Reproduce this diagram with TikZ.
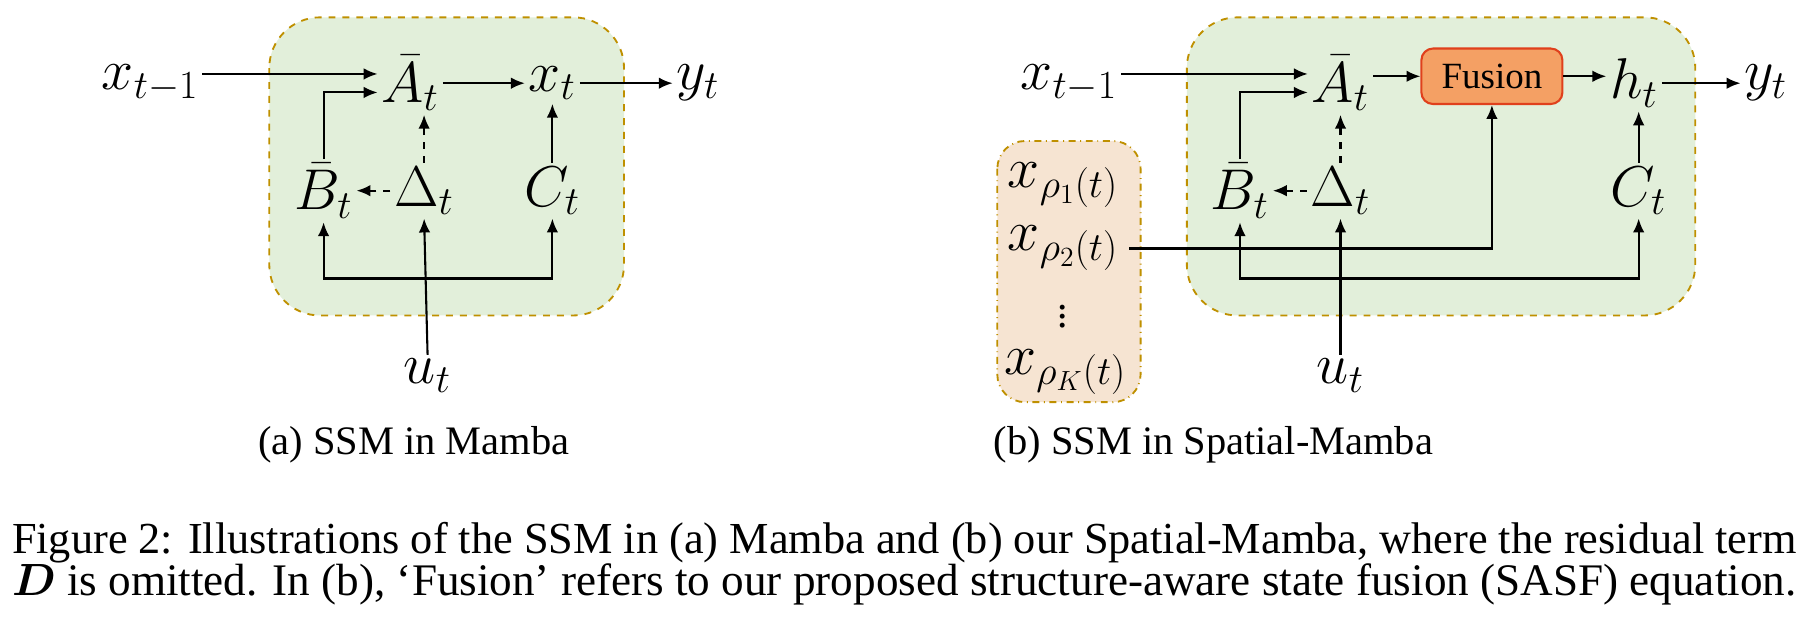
\documentclass[tikz,border=0pt]{standalone}
\usepackage{fontspec}
\setmainfont{Liberation Serif}
\usepackage{amsmath}
\usetikzlibrary{arrows.meta}
\definecolor{boxg}{HTML}{E2EFDA}
\definecolor{boxb}{HTML}{BF9000}
\definecolor{peach}{HTML}{F6E4D2}
\definecolor{fusf}{HTML}{F4A064}
\definecolor{fusb}{HTML}{E0401C}
\begin{document}
\begin{tikzpicture}[x=0.5pt,y=-0.5pt,
  m/.style={font=\fontsize{24}{26}\selectfont, inner sep=1.5pt},
  ar/.style={-{Latex[length=6pt,width=5pt]}, line width=0.9pt},
  da/.style={ar, dashed},
  subcap/.style={font=\fontsize{17.5}{20}\selectfont}]
\useasboundingbox (0,0) rectangle (1568,557);
% boxes
\draw[boxb, fill=boxg, dashed, line width=0.8pt, rounded corners=22pt] (233,15) rectangle (540,273);
\draw[boxb, fill=boxg, dashed, line width=0.8pt, rounded corners=22pt] (1027,15) rectangle (1467,273);
\draw[boxb, fill=peach, dash dot, line width=0.8pt, rounded corners=12pt] (863,122) rectangle (987,348);
% (a)
\node[m] (xm1) at (130,72) {$x_{t-1}$};
\node[m] (A) at (355,72) {$\bar{A}_t$};
\node[m] (xt) at (478,72) {$x_t$};
\node[m] (y) at (604,72) {$y_t$};
\node[m] (B) at (280,165) {$\bar{B}_t$};
\node[m] (D) at (367,165) {$\Delta_t$};
\node[m] (C) at (478,165) {$C_t$};
\node[m] (u) at (370,325) {$u_t$};
\coordinate (ba) at (370,241);
\coordinate (a1) at (A.west);
\draw[ar] ([yshift=4pt]a1 -| xm1.east) -- ([yshift=4pt]a1);
\draw[ar] (B.north) |- ([yshift=-4pt]a1);
\draw[ar] (A.east) -- (xt.west);
\draw[ar] (xt.east) -- (y.west);
\draw[da] (D.north) -- (A.south -| D.north);
\draw[da] (D.west) -- (B.east);
\draw[ar] (C.north) -- (xt.south);
\draw[ar] (u.north) -- (D.south);
\draw[ar] (ba) -| (B.south);
\draw[ar] (ba) -| (C.south);
\node[subcap] (ca) at (358,385) {(a) SSM in Mamba};
% (b)
\node[m] (xm1b) at (925,72) {$x_{t-1}$};
\node[m] (Ab) at (1160,72) {$\bar{A}_t$};
\node[draw=fusb, fill=fusf, line width=0.9pt, rounded corners=5pt, minimum width=61pt, minimum height=24pt, font=\fontsize{16}{18}\selectfont] (F) at (1291,66) {Fusion};
\node[m] (h) at (1414,72) {$h_t$};
\node[m] (yb) at (1528,72) {$y_t$};
\node[m] (Bb) at (1073,165) {$\bar{B}_t$};
\node[m] (Db) at (1160,165) {$\Delta_t$};
\node[m] (Cb) at (1418,165) {$C_t$};
\node[m] (ub) at (1160,325) {$u_t$};
\node[m] (r1) at (920,160) {$x_{\rho_1(t)}$};
\node[m] (r2) at (920,215) {$x_{\rho_2(t)}$};
\node[font=\fontsize{18}{20}\selectfont, inner sep=0pt] (rd) at (920,268) {$\vdots$};
\node[m] (rk) at (922,322) {$x_{\rho_K(t)}$};
\coordinate (bb) at (1160,241);
\coordinate (b1) at (Ab.west);
\draw[ar] ([yshift=4pt]b1 -| xm1b.east) -- ([yshift=4pt]b1);
\draw[ar] (Bb.north) |- ([yshift=-4pt]b1);
\draw[ar] (F.west -| Ab.east) -- (F.west);
\draw[ar] (F.east) -- (F.east -| h.west);
\draw[ar] (h.east) -- (yb.west);
\draw[da] (Db.north) -- (Ab.south -| Db.north);
\draw[da] (Db.west) -- (Bb.east);
\draw[ar] (Cb.north) -- (h.south -| Cb.north);
\draw[ar] (ub.north) -- (Db.south);
\draw[ar] (bb) -| (Bb.south);
\draw[ar] (bb) -| (Cb.south);
\draw[ar] ([xshift=3pt]r2.east) -| (F.south);
\node[subcap] (cb) at (1050,385) {(b) SSM in Spatial-Mamba};
% caption
\node[anchor=west, inner sep=0pt] (c1) at (10,470) {\resizebox{772pt}{!}{Figure 2: Illustrations of the SSM in (a) Mamba and (b) our Spatial-Mamba, where the residual term}};
\node[anchor=west, inner sep=0pt] (c2) at (10,506) {\resizebox{772pt}{!}{$\boldsymbol{D}$ is omitted. In (b), `Fusion' refers to our proposed structure-aware state fusion (SASF) equation.}};
\end{tikzpicture}
\end{document}
